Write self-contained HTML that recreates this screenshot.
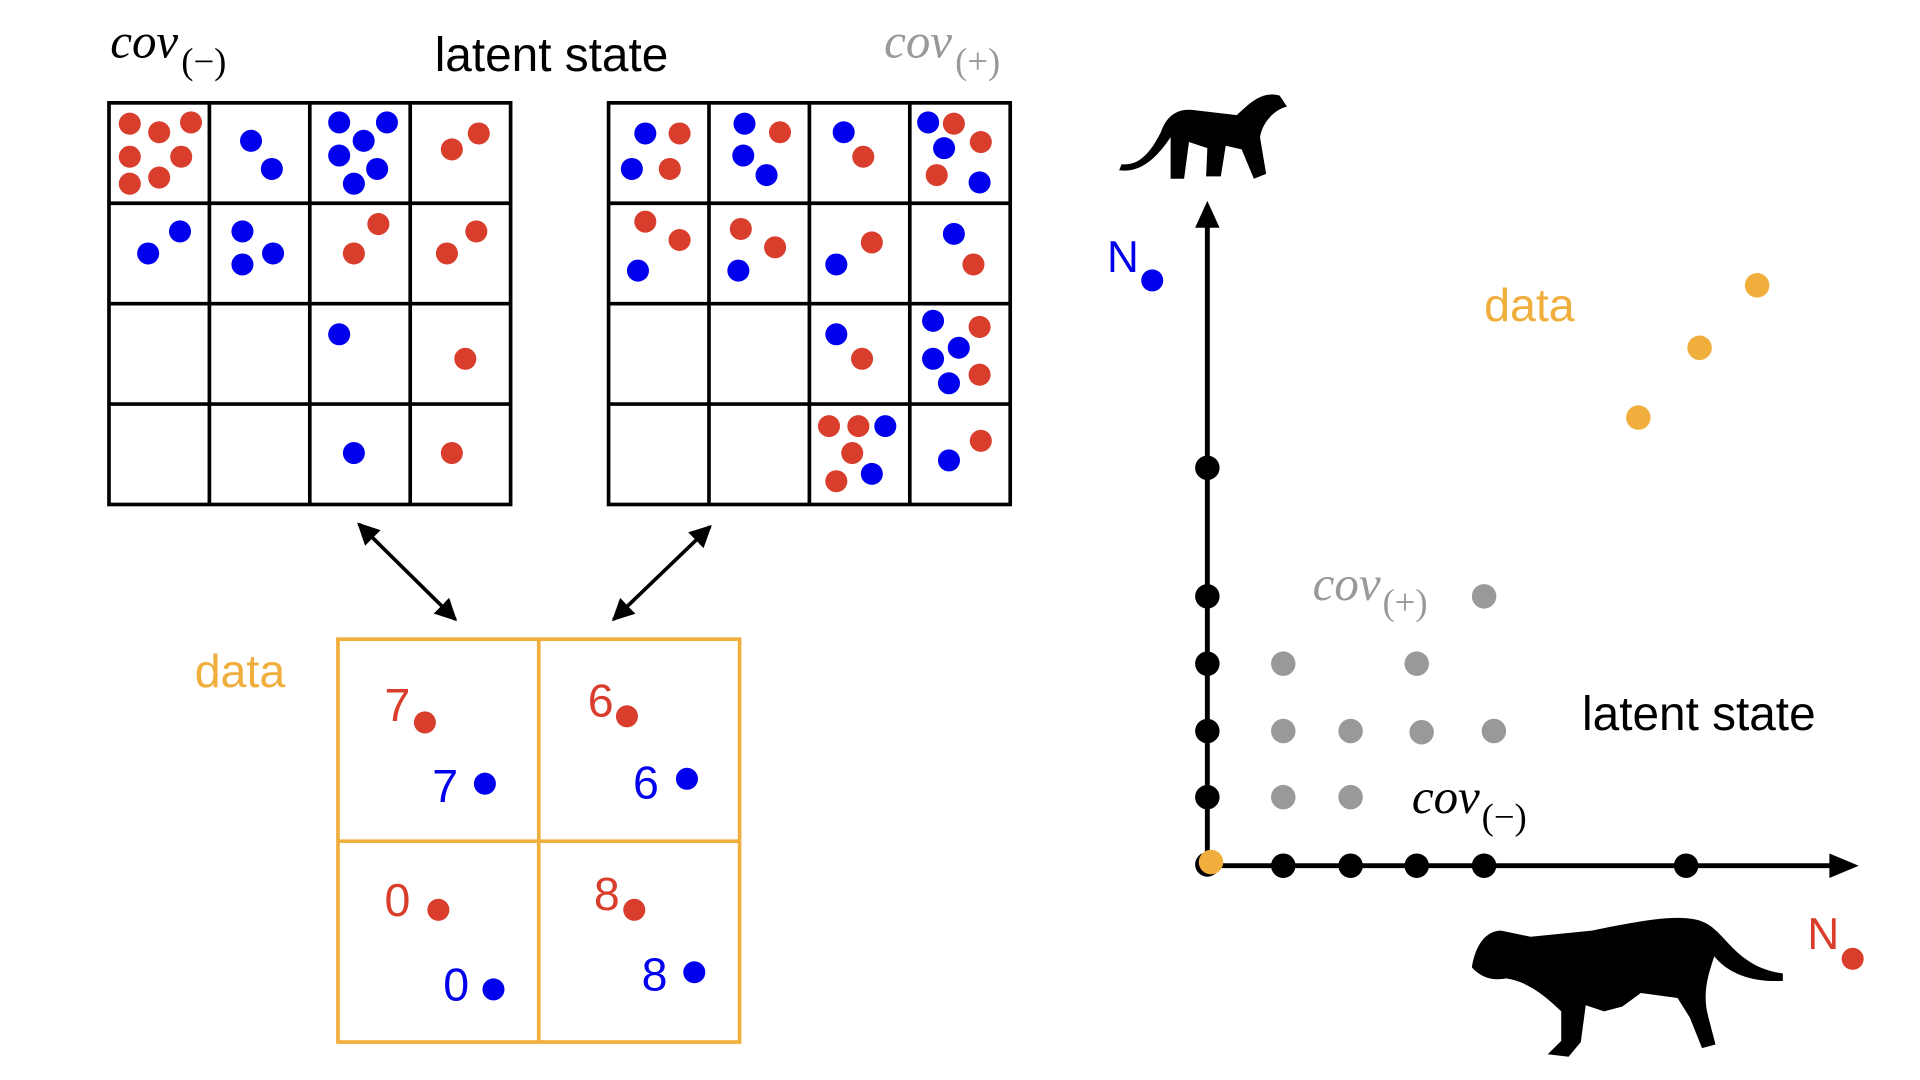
<!DOCTYPE html>
<html><head><meta charset="utf-8"><style>
html,body{margin:0;padding:0;background:#fff;width:1920px;height:1080px;overflow:hidden}
svg{display:block}
.s{font-family:"Liberation Sans",sans-serif}
.i{font-family:"Liberation Serif",serif;font-style:italic}
.p{font-family:"Liberation Serif",serif}
</style></head><body>
<svg width="1920" height="1080" viewBox="0 0 1568 882" preserveAspectRatio="none" xmlns="http://www.w3.org/2000/svg">
<defs>
<marker id="ah" viewBox="0 0 10 10" refX="9" refY="5" markerWidth="6" markerHeight="6" orient="auto-start-reverse"><path d="M0,0 L10,5 L0,10 Z" fill="#000"/></marker>
</defs>
<g stroke="#000" stroke-width="3" fill="none">
<rect x="89" y="84" width="328" height="328"/>
<path d="M171,84V412M253,84V412M335,84V412M89,166H417M89,248H417M89,330H417"/>
<rect x="497" y="84" width="328" height="328"/>
<path d="M579,84V412M661,84V412M743,84V412M497,166H825M497,248H825M497,330H825"/>
</g>
<g fill="#D93D2B">
<circle cx="106" cy="101" r="9"/><circle cx="130" cy="108" r="9"/><circle cx="156" cy="100" r="9"/><circle cx="106" cy="128" r="9"/><circle cx="148" cy="128" r="9"/><circle cx="130" cy="145" r="9"/><circle cx="106" cy="150" r="9"/>
<circle cx="369" cy="122" r="9"/><circle cx="391" cy="109" r="9"/>
<circle cx="309" cy="183" r="9"/><circle cx="289" cy="207" r="9"/><circle cx="389" cy="189" r="9"/><circle cx="365" cy="207" r="9"/>
<circle cx="380" cy="293" r="9"/><circle cx="369" cy="370" r="9"/>
<circle cx="555" cy="109" r="9"/><circle cx="547" cy="138" r="9"/><circle cx="637" cy="108" r="9"/><circle cx="705" cy="128" r="9"/>
<circle cx="779" cy="101" r="9"/><circle cx="801" cy="116" r="9"/><circle cx="765" cy="143" r="9"/>
<circle cx="527" cy="181" r="9"/><circle cx="555" cy="196" r="9"/><circle cx="605" cy="187" r="9"/><circle cx="633" cy="202" r="9"/>
<circle cx="712" cy="198" r="9"/><circle cx="795" cy="216" r="9"/><circle cx="704" cy="293" r="9"/>
<circle cx="800" cy="267" r="9"/><circle cx="800" cy="306" r="9"/>
<circle cx="677" cy="348" r="9"/><circle cx="701" cy="348" r="9"/><circle cx="696" cy="370" r="9"/><circle cx="683" cy="393" r="9"/><circle cx="801" cy="360" r="9"/>
<circle cx="347" cy="590" r="9"/><circle cx="512" cy="585" r="9"/><circle cx="358" cy="743" r="9"/><circle cx="518" cy="743" r="9"/>
<circle cx="1513" cy="783" r="9"/>
</g>
<g fill="#0000EE">
<circle cx="205" cy="115" r="9"/><circle cx="222" cy="138" r="9"/>
<circle cx="277" cy="100" r="9"/><circle cx="316" cy="100" r="9"/><circle cx="297" cy="115" r="9"/><circle cx="277" cy="127" r="9"/><circle cx="308" cy="138" r="9"/><circle cx="289" cy="150" r="9"/>
<circle cx="121" cy="207" r="9"/><circle cx="147" cy="189" r="9"/><circle cx="198" cy="189" r="9"/><circle cx="223" cy="207" r="9"/><circle cx="198" cy="216" r="9"/>
<circle cx="277" cy="273" r="9"/><circle cx="289" cy="370" r="9"/>
<circle cx="527" cy="109" r="9"/><circle cx="516" cy="138" r="9"/><circle cx="608" cy="101" r="9"/><circle cx="607" cy="127" r="9"/><circle cx="626" cy="143" r="9"/><circle cx="689" cy="108" r="9"/>
<circle cx="758" cy="100" r="9"/><circle cx="771" cy="121" r="9"/><circle cx="800" cy="149" r="9"/>
<circle cx="521" cy="221" r="9"/><circle cx="603" cy="221" r="9"/><circle cx="683" cy="216" r="9"/><circle cx="779" cy="191" r="9"/>
<circle cx="683" cy="273" r="9"/><circle cx="762" cy="262" r="9"/><circle cx="783" cy="284" r="9"/><circle cx="762" cy="293" r="9"/><circle cx="775" cy="313" r="9"/>
<circle cx="723" cy="348" r="9"/><circle cx="712" cy="387" r="9"/><circle cx="775" cy="376" r="9"/>
<circle cx="396" cy="640" r="9"/><circle cx="561" cy="636" r="9"/><circle cx="403" cy="808" r="9"/><circle cx="567" cy="794" r="9"/>
<circle cx="941" cy="229" r="9"/>
</g>
<text x="90" y="47" class="i" font-size="40">cov</text><text x="148" y="60" class="p" font-size="30">(−)</text>
<text x="355" y="58" class="s" font-size="39">latent state</text>
<text x="722" y="47" class="i" font-size="40" fill="#999">cov</text><text x="780" y="60" class="p" font-size="30" fill="#999">(+)</text>
<g stroke="#000" stroke-width="3" marker-start="url(#ah)" marker-end="url(#ah)">
<line x1="293" y1="428" x2="372" y2="506"/>
<line x1="580" y1="430" x2="501" y2="506"/>
</g>
<g stroke="#F0AE3C" stroke-width="3" fill="none">
<rect x="276" y="522" width="328" height="329"/>
<path d="M440,522V851M276,687H604"/>
</g>
<text x="159" y="561" class="s" font-size="38" fill="#F0AE3C">data</text>
<g class="s" font-size="38">
<text x="314" y="589" fill="#D93D2B">7</text><text x="353" y="655" fill="#0000EE">7</text>
<text x="480" y="585" fill="#D93D2B">6</text><text x="517" y="652" fill="#0000EE">6</text>
<text x="314" y="748" fill="#D93D2B">0</text><text x="362" y="817" fill="#0000EE">0</text>
<text x="485" y="743" fill="#D93D2B">8</text><text x="524" y="809" fill="#0000EE">8</text>
</g>
<g stroke="#000" stroke-width="4" fill="none">
<path d="M986,708V182M984,707H1500"/>
</g>
<path d="M986,164 L976,186 L996,186 Z" fill="#000"/>
<path d="M1518,707 L1494,697 L1494,717 Z" fill="#000"/>
<g fill="#000">
<circle cx="986" cy="382" r="10"/><circle cx="986" cy="487" r="10"/><circle cx="986" cy="542" r="10"/><circle cx="986" cy="597" r="10"/><circle cx="986" cy="651" r="10"/><circle cx="986" cy="706" r="10"/>
<circle cx="1048" cy="707" r="10"/><circle cx="1103" cy="707" r="10"/><circle cx="1157" cy="707" r="10"/><circle cx="1212" cy="707" r="10"/><circle cx="1377" cy="707" r="10"/>
</g>
<g fill="#999">
<circle cx="1048" cy="542" r="10"/><circle cx="1157" cy="542" r="10"/><circle cx="1212" cy="487" r="10"/>
<circle cx="1048" cy="597" r="10"/><circle cx="1103" cy="597" r="10"/><circle cx="1161" cy="598" r="10"/><circle cx="1220" cy="597" r="10"/>
<circle cx="1048" cy="651" r="10"/><circle cx="1103" cy="651" r="10"/>
</g>
<g fill="#F0AE3C">
<circle cx="989" cy="704" r="10"/><circle cx="1338" cy="341" r="10"/><circle cx="1388" cy="284" r="10"/><circle cx="1435" cy="233" r="10"/>
</g>
<text x="1212" y="262" class="s" font-size="38" fill="#F0AE3C">data</text>
<text x="1292" y="596" class="s" font-size="39">latent state</text>
<text x="1072" y="490" class="i" font-size="40" fill="#999">cov</text><text x="1129" y="502" class="p" font-size="30" fill="#999">(+)</text>
<text x="1153" y="664" class="i" font-size="40">cov</text><text x="1210" y="677" class="p" font-size="30">(−)</text>
<text x="904" y="222" class="s" font-size="36" fill="#0000EE">N</text>
<text x="1476" y="775" class="s" font-size="36" fill="#D93D2B">N</text>
<path fill="#000" d="M916,134 C930,136 940,124 948,108 C953,94 962,88 976,90 L1010,94 C1020,85 1030,74 1045,78 L1051,87 C1040,90 1031,100 1029,112 L1034,142 L1024,146 L1014,122 L1001,119 L997,144 L985,144 L986,121 L971,116 L967,146 L956,146 L956,112 C948,124 934,142 914,139 Z"/>
<path fill="#000" d="M1202,790 C1205,771 1214,760 1226,760 L1250,765 L1300,760 C1340,752 1378,744 1395,755 C1411,765 1420,790 1456,795 L1456,801 C1420,803 1405,787 1400,781 C1395,796 1390,811 1395,830 L1401,853 L1390,856 L1380,831 L1370,815 L1340,811 L1325,822 L1310,826 L1295,821 L1291,851 L1281,863 L1264,861 L1275,850 L1275,826 C1260,811 1245,801 1230,799 C1220,801 1210,799 1202,790 Z"/>
</svg>
</body></html>
